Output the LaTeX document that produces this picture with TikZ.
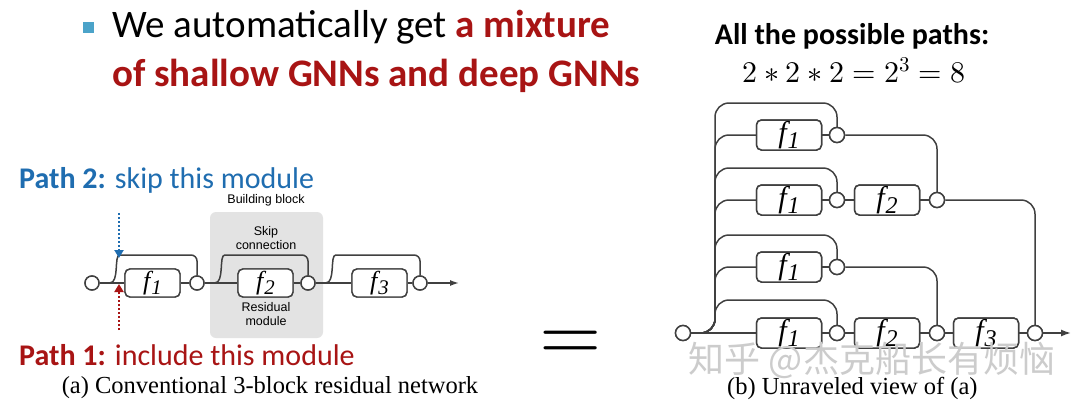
\documentclass[tikz,border=0pt]{standalone}
\usepackage{fontspec}
\usepackage{unicode-math}
\setmathfont{Latin Modern Math}
\setmainfont{Carlito}
\newfontfamily\arialf{Liberation Sans}
\newfontfamily\timesf{Liberation Serif}
\newfontfamily\cjk{Noto Sans CJK SC}
\usetikzlibrary{arrows.meta}
\definecolor{ln}{HTML}{404040}
\definecolor{pblue}{HTML}{1F6DB0}
\definecolor{pred}{HTML}{A81414}
\definecolor{bul}{HTML}{4BA3C9}
\newcommand{\fsym}[1]{{\timesf\itshape f\kern1pt\raisebox{-0.2em}{\scalebox{0.8}{#1}}}}
\tikzset{
  wire/.style={draw=ln,line width=1.5pt},
  modbig/.style={draw=ln,line width=1.5pt,rounded corners=5pt,minimum width=65pt,minimum height=30pt,inner sep=0pt,fill=white,font=\fontsize{30}{30}\selectfont},
  modsm/.style={draw=ln,line width=1.4pt,rounded corners=5pt,minimum width=55pt,minimum height=28pt,inner sep=0pt,fill=white,font=\fontsize{26}{26}\selectfont},
  junc/.style={circle,draw=ln,line width=1.5pt,fill=white,minimum size=15pt,inner sep=0pt},
  juncs/.style={circle,draw=ln,line width=1.4pt,fill=white,minimum size=14pt,inner sep=0pt},
  lab/.style={font=\arialf\fontsize{12.5}{13.5}\selectfont,align=center,inner sep=0pt}
}
\begin{document}
\begin{tikzpicture}[x=1pt,y=-1pt]
\useasboundingbox[fill=white] (0,0) rectangle (1088,410);
% title
\node[fill=bul,minimum size=11pt,inner sep=0pt] (bullet) at (88,27) {};
\node[anchor=west,inner sep=0pt,font=\fontsize{39}{44}\selectfont] (t1) at (112,27) {We automatically get \textbf{\color{pred}a mixture}};
\node[anchor=west,inner sep=0pt,font=\fontsize{39}{44}\selectfont\bfseries,text=pred] (t2) at (112,76) {of shallow GNNs and deep GNNs};
% path labels
\node[anchor=west,inner sep=0pt,font=\fontsize{30}{32}\selectfont,text=pblue] (p2) at (19,180) {\textbf{Path 2:} skip this module};
\node[anchor=west,inner sep=0pt,font=\fontsize{30}{32}\selectfont,text=pred] (p1) at (19,355) {\textbf{Path 1:} include this module};
% left diagram
\node[fill=black!11,rounded corners=6pt,minimum width=113pt,minimum height=126pt,inner sep=0pt] (bb) at (266.5,275) {};
\node[lab] (bbl) at (266,200) {Building block};
\node[lab] (skl) at (266,238) {Skip\\connection};
\node[lab] (rml) at (266,314) {Residual\\module};
\node[juncs] (a0) at (92,283) {};
\node[modsm] (af1) at (152.5,283) {\fsym{1}};
\node[juncs] (a1) at (197,283) {};
\node[modsm] (af2) at (265.5,283) {\fsym{2}};
\node[juncs] (a2) at (308,283) {};
\node[modsm] (af3) at (379.5,283) {\fsym{3}};
\node[juncs] (a3) at (420,283) {};
\coordinate (aend) at (459,283);
\draw[wire] (a0) -- (af1) -- (a1) -- (af2) -- (a2) -- (af3) -- (a3);
\draw[wire,-{Latex[length=9pt,width=6pt]}] (a3) -- (aend);
\foreach \s/\e in {a0/a1,a1/a2,a2/a3}{
  \draw[wire,rounded corners=6pt] ([xshift=10pt]\s.east) .. controls ([xshift=20pt]\s.east) and ([xshift=14pt,yshift=28pt]\s.east) .. ([xshift=26pt,yshift=28pt]\s.east) -| (\e.north);
}
\coordinate (bt) at (119,213);
\coordinate (bb2) at (119,258);
\draw[pblue,line width=2pt,dotted,-{Triangle[length=8pt,width=9pt]}] (bt) -- (bb2);
\coordinate (rt) at (119,330);
\coordinate (rb) at (119,284);
\draw[pred,line width=2pt,dotted,-{Triangle[length=8pt,width=9pt]}] (rt) -- (rb);
% equals
\node[font=\fontsize{80}{80}\selectfont,inner sep=0pt] (eq) at (571,346) {$=$};
% right header
\node[font=\fontsize{30}{32}\selectfont\bfseries,inner sep=0pt] (ap) at (852,36) {All the possible paths:};
\node[font=\fontsize{30}{32}\selectfont,inner sep=0pt] (form) at (854,70) {$2*2*2=2^3=8$};
% right diagram
\node[junc] (s0) at (683,333) {};
\node[modbig] (r1f1) at (789,135) {\fsym{1}};
\node[junc] (r1c1) at (837,135) {};
\node[modbig] (r2f1) at (789,200) {\fsym{1}};
\node[junc] (r2c1) at (837,200) {};
\node[modbig] (r2f2) at (887,200) {\fsym{2}};
\node[junc] (r2c2) at (937,200) {};
\node[modbig] (r3f1) at (789,267) {\fsym{1}};
\node[junc] (r3c1) at (837,267) {};
\node[modbig] (r4f1) at (789,333) {\fsym{1}};
\node[junc] (r4c1) at (837,333) {};
\node[modbig] (r4f2) at (887,333) {\fsym{2}};
\node[junc] (r4c2) at (937,333) {};
\node[modbig] (r4f3) at (986,333) {\fsym{3}};
\node[junc] (r4c3) at (1035,333) {};
\coordinate (rend) at (1071,333);
\foreach \yy/\tgt in {103/r1c1,168/r2c1,235/r3c1,300/r4c1}{
  \draw[wire,rounded corners=14pt] (s0.east) -| (715,\yy) -| (\tgt.north);
}
\foreach \yy/\tgt in {135/r1f1,200/r2f1,267/r3f1}{
  \draw[wire,rounded corners=14pt] (s0.east) -| (715,\yy) -- (\tgt.west);
}
\draw[wire] (s0) -- (r4f1) -- (r4c1) -- (r4f2) -- (r4c2) -- (r4f3) -- (r4c3);
\draw[wire] (r1f1) -- (r1c1);
\draw[wire] (r2f1) -- (r2c1) -- (r2f2) -- (r2c2);
\draw[wire] (r3f1) -- (r3c1);
\draw[wire,rounded corners=14pt] (r1c1.east) -| (r2c2.north);
\draw[wire,rounded corners=14pt] (r2c2.east) -| (r4c3.north);
\draw[wire,rounded corners=14pt] (r3c1.east) -| (r4c2.north);
\draw[wire,-{Latex[length=10pt,width=7pt]}] (r4c3) -- (rend);
% redraw nodes on top
\foreach \n/\t in {r1f1/1,r2f1/1,r3f1/1,r4f1/1,r2f2/2,r4f2/2,r4f3/3}{
  \node[modbig] at (\n) {\fsym{\t}};
}
\foreach \n in {s0,r1c1,r2c1,r2c2,r3c1,r4c1,r4c2,r4c3}{\node[junc] at (\n) {};}
\foreach \n/\t in {af1/1,af2/2,af3/3}{\node[modsm] at (\n) {\fsym{\t}};}
\foreach \n in {a0,a1,a2,a3}{\node[juncs] at (\n) {};}
% watermark
\node[font=\cjk\fontsize{36}{38}\selectfont,text=black!20,inner sep=0pt] (wm) at (872,360) {知乎 @杰克船长有烦恼};
% captions
\node[font=\timesf\fontsize{24.5}{26}\selectfont,inner sep=0pt] (capa) at (270,388) {(a) Conventional 3-block residual network};
\node[font=\timesf\fontsize{24.5}{26}\selectfont,inner sep=0pt,anchor=west] (capb) at (727,388) {(b) Unraveled view of (a)};
\end{tikzpicture}
\end{document}
